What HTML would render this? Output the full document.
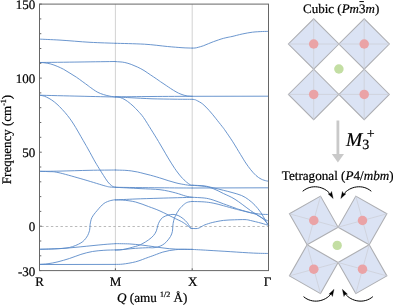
<!DOCTYPE html>
<html><head><meta charset="utf-8"><title>Phonon dispersion</title>
<style>html,body{margin:0;padding:0;background:#fff}body{width:393px;height:305px;overflow:hidden}text{stroke:#000;stroke-width:.22px;paint-order:stroke}</style></head>
<body>
<svg width="393" height="305" viewBox="0 0 393 305" text-rendering="geometricPrecision" style="display:block;font-family:'Liberation Serif','DejaVu Serif',serif">
<rect width="393" height="305" fill="#fff"/>
<line x1="115.4" y1="4.1" x2="115.4" y2="270.6" stroke="#cbcbcb" stroke-width="0.85"/>
<line x1="192.2" y1="4.1" x2="192.2" y2="270.6" stroke="#cbcbcb" stroke-width="0.85"/>
<line x1="41.3" y1="226.5" x2="268.0" y2="226.5" stroke="#b6b6b6" stroke-width="0.95" stroke-dasharray="2.4 2.4"/>
<g fill="none" stroke="#5a8ac8" stroke-width="0.9" stroke-linecap="round" stroke-linejoin="round">
<path d="M39.5 39.1C42.9 39.3 51.6 39.6 60.0 40.1C68.4 40.6 80.8 41.8 90.0 42.3C99.2 42.8 111.2 43.1 115.4 43.3"/>
<path d="M39.5 62.5C46.2 62.4 67.3 62.2 80.0 62.0C92.7 61.8 109.5 61.6 115.4 61.5"/>
<path d="M39.5 62.4C40.4 62.5 43.1 62.6 45.0 62.9C46.9 63.2 48.8 63.4 50.8 64.0C52.8 64.6 55.1 65.4 57.2 66.3C59.3 67.2 61.5 68.1 63.6 69.3C65.7 70.5 67.9 71.9 70.0 73.2C72.1 74.5 74.3 75.8 76.4 77.2C78.5 78.6 80.9 80.4 82.8 81.8C84.7 83.2 86.7 84.6 88.0 85.6C89.3 86.6 89.3 86.6 90.8 87.7C92.3 88.8 95.1 90.8 97.2 92.0C99.3 93.2 101.5 93.9 103.6 94.6C105.7 95.3 108.0 95.8 110.0 96.2C112.0 96.6 114.5 96.8 115.4 96.9"/>
<path d="M39.5 95.2C46.2 95.4 67.3 95.9 80.0 96.2C92.7 96.5 109.5 96.9 115.4 97.0"/>
<path d="M39.5 95.2C40.1 95.3 41.8 95.5 43.0 95.8C44.2 96.1 45.0 96.4 46.5 97.1C48.0 97.8 50.0 98.8 51.7 100.0C53.5 101.2 55.2 102.6 57.0 104.2C58.8 105.8 60.5 107.5 62.2 109.4C64.0 111.3 66.0 113.6 67.5 115.5C69.0 117.4 70.1 118.9 71.5 120.9C72.9 122.9 74.1 124.9 75.7 127.5C77.3 130.1 79.4 133.9 81.0 136.7C82.6 139.4 83.9 141.8 85.2 144.0C86.5 146.2 86.9 147.0 88.6 150.0C90.3 153.0 93.3 158.7 95.2 162.0C97.1 165.3 98.6 167.6 100.0 169.9C101.4 172.2 102.3 173.6 103.6 175.6C104.9 177.6 106.5 180.2 107.8 181.9C109.1 183.6 110.5 184.8 111.5 185.6C112.5 186.4 113.1 186.6 113.8 186.9C114.5 187.2 115.1 187.2 115.4 187.3"/>
<path d="M39.5 171.3C42.9 171.3 51.6 171.3 60.0 171.1C68.4 170.9 80.8 170.5 90.0 170.3C99.2 170.1 111.2 170.1 115.4 170.0"/>
<path d="M39.5 171.3C40.9 171.4 44.9 171.4 48.0 171.6C51.1 171.8 52.5 171.3 58.0 172.5C63.5 173.7 73.2 176.5 80.9 178.7C88.6 180.9 99.1 184.2 103.9 185.6C108.8 187.0 108.1 186.7 110.0 187.0C111.9 187.3 114.5 187.2 115.4 187.2"/>
<path d="M39.5 249.3C42.1 249.2 50.0 249.1 55.0 248.8C60.0 248.5 65.1 248.5 69.4 247.5C73.7 246.5 78.0 244.6 80.9 242.9C83.8 241.2 85.2 239.2 86.7 237.1C88.2 235.0 89.0 232.4 89.6 230.3C90.2 228.2 89.7 226.6 90.1 224.5C90.5 222.4 90.8 219.9 91.9 217.6C93.1 215.3 95.0 213.0 97.0 210.7C99.0 208.3 101.6 205.2 103.9 203.5C106.2 201.8 108.9 201.1 110.8 200.5C112.7 199.9 114.6 199.9 115.4 199.8"/>
<path d="M39.5 249.3C42.9 249.2 53.1 249.0 60.0 248.6C66.9 248.2 73.6 247.5 80.9 246.8C88.2 246.1 98.2 245.0 103.9 244.5C109.7 244.0 113.5 243.8 115.4 243.7"/>
<path d="M39.5 264.3C40.9 264.2 44.9 264.1 48.0 263.7C51.1 263.3 54.4 262.7 58.0 261.8C61.6 260.9 65.6 259.7 69.4 258.5C73.2 257.3 77.1 255.6 80.9 254.4C84.7 253.2 88.6 252.2 92.4 251.5C96.2 250.8 100.1 250.6 103.9 250.3C107.7 250.0 113.5 250.0 115.4 249.9"/>
<path d="M39.5 264.5L115.4 264.4"/>
<path d="M115.4 43.3C120.2 43.4 135.7 43.7 144.4 44.2C153.1 44.7 161.1 45.9 167.4 46.5C173.7 47.1 177.9 47.4 182.0 47.7C186.1 48.0 190.5 48.0 192.2 48.1"/>
<path d="M115.4 61.6C116.2 61.6 118.4 61.8 120.0 61.9C121.6 62.0 122.9 62.1 124.8 62.5C126.7 62.9 129.1 63.6 131.2 64.4C133.3 65.2 135.5 66.1 137.6 67.1C139.7 68.1 141.9 69.2 144.0 70.5C146.1 71.8 148.3 73.4 150.4 74.8C152.5 76.2 154.9 77.8 156.8 79.1C158.7 80.4 159.7 81.2 162.0 82.7C164.3 84.2 168.2 86.9 170.5 88.4C172.8 89.9 174.2 90.8 176.0 91.8C177.8 92.8 179.1 93.5 181.0 94.2C182.9 94.9 185.4 95.7 187.3 96.0C189.2 96.3 191.3 96.2 192.2 96.3"/>
<path d="M115.4 96.8C121.5 96.8 139.2 96.6 152.0 96.5C164.8 96.4 185.5 96.3 192.2 96.3"/>
<path d="M115.4 96.9C117.8 97.0 123.9 97.4 130.0 97.7C136.1 98.0 144.5 98.5 152.0 98.8C159.5 99.0 168.3 99.1 175.0 99.2C181.7 99.3 189.3 99.3 192.2 99.3"/>
<path d="M115.4 96.8C116.0 96.9 117.8 96.9 119.0 97.2C120.2 97.5 121.0 97.7 122.5 98.4C124.0 99.1 126.0 100.2 127.7 101.5C129.4 102.8 131.2 104.3 133.0 105.9C134.8 107.5 136.4 109.3 138.2 111.2C139.9 113.1 141.3 114.4 143.5 117.5C145.7 120.6 148.8 125.8 151.3 129.8C153.8 133.8 156.5 138.1 158.5 141.5C160.5 144.9 161.9 147.3 163.5 150.0C165.1 152.7 166.2 154.8 168.1 157.9C170.0 161.0 172.5 165.2 174.7 168.4C176.9 171.6 179.2 174.6 181.2 176.9C183.2 179.2 185.0 180.8 186.5 182.1C188.0 183.4 189.3 184.2 190.2 184.7C191.1 185.2 191.8 185.2 192.2 185.3"/>
<path d="M115.4 170.0C117.0 170.1 122.2 170.2 124.8 170.3C127.4 170.5 129.1 170.6 131.2 170.9C133.3 171.2 135.5 171.6 137.6 172.0C139.7 172.4 141.9 173.1 144.0 173.6C146.1 174.1 148.3 174.6 150.4 175.2C152.5 175.8 154.9 176.4 156.8 177.0C158.7 177.6 160.1 178.0 162.0 178.6C163.9 179.2 165.9 179.9 168.1 180.6C170.3 181.3 172.8 182.0 175.0 182.6C177.2 183.2 178.8 183.6 181.2 184.0C183.5 184.4 187.3 185.1 189.1 185.3C190.9 185.6 191.6 185.5 192.2 185.5"/>
<path d="M115.4 187.3C122.8 187.4 147.2 187.7 160.0 187.8C172.8 187.9 186.8 188.0 192.2 188.0"/>
<path d="M115.4 187.3C119.5 187.5 132.6 188.2 140.0 188.6C147.4 189.0 154.1 189.0 160.0 189.7C165.9 190.4 171.3 191.8 175.6 192.9C179.9 194.0 183.0 195.4 185.8 196.1C188.6 196.8 191.1 197.1 192.2 197.3"/>
<path d="M115.4 199.9C118.7 199.8 127.6 199.3 135.0 199.0C142.4 198.7 150.5 198.5 160.0 198.2C169.5 197.9 186.8 197.5 192.2 197.3"/>
<path d="M115.4 199.9C116.6 199.9 119.4 199.8 122.8 200.1C126.2 200.4 131.3 200.9 135.6 202.0C139.9 203.1 144.3 205.0 148.4 206.5C152.5 208.0 155.5 209.0 160.0 211.0C164.5 213.0 171.7 216.8 175.6 218.7C179.5 220.6 181.1 221.2 183.2 222.5C185.3 223.8 187.2 225.4 188.4 226.3C189.6 227.2 189.7 227.7 190.3 228.0C190.9 228.3 191.8 228.3 192.2 228.4"/>
<path d="M115.4 243.6C117.7 243.7 124.8 243.7 129.2 243.9C133.6 244.2 137.7 244.6 142.0 245.1C146.3 245.6 150.3 246.2 154.8 246.8C159.3 247.4 164.7 248.3 169.2 248.7C173.7 249.1 178.2 249.2 182.0 249.3C185.8 249.4 190.5 249.4 192.2 249.4"/>
<path d="M115.4 250.0C116.6 249.9 119.4 250.2 122.8 249.6C126.2 249.0 132.4 247.3 135.6 246.4C138.8 245.5 139.9 245.0 142.0 243.9C144.1 242.8 146.5 241.4 148.4 240.0C150.3 238.6 152.2 237.1 153.5 235.6C154.8 234.1 155.7 232.5 156.4 230.8C157.1 229.2 157.2 227.3 157.7 225.7C158.2 224.1 158.8 222.6 159.6 221.2C160.4 219.8 161.4 218.4 162.8 217.4C164.2 216.4 166.2 215.7 167.9 215.2C169.6 214.7 171.3 214.3 173.0 214.4C174.7 214.5 176.4 214.8 178.1 215.5C179.8 216.2 181.7 217.5 183.2 218.7C184.7 219.9 186.0 221.2 187.1 222.5C188.2 223.8 189.0 225.4 189.6 226.3C190.2 227.2 190.3 227.8 190.7 228.2C191.1 228.6 191.9 228.4 192.2 228.5"/>
<path d="M115.4 250.0C117.0 249.9 121.6 249.6 125.0 249.3C128.4 249.0 131.7 248.6 135.6 248.3C139.5 248.0 145.6 247.8 148.4 247.7C151.2 247.6 151.1 247.9 152.6 247.8C154.1 247.7 156.0 247.5 157.7 247.0C159.4 246.5 161.3 245.7 162.8 244.8C164.3 243.9 165.3 243.0 166.6 241.6C167.9 240.2 169.5 238.2 170.5 236.5C171.5 234.8 172.0 233.1 172.4 231.4C172.8 229.7 172.6 228.1 172.8 226.3C173.0 224.5 173.2 222.4 173.7 220.6C174.2 218.8 174.6 217.4 175.6 215.5C176.6 213.6 177.9 211.0 179.4 209.1C180.9 207.2 183.0 205.2 184.5 204.0C186.0 202.8 187.1 202.4 188.4 202.0C189.7 201.6 191.5 201.6 192.2 201.5"/>
<path d="M115.4 264.4C116.6 264.3 119.4 264.5 122.8 264.1C126.2 263.7 131.3 262.9 135.6 261.8C139.9 260.7 144.9 258.5 148.4 257.3C151.9 256.1 154.0 255.3 156.4 254.4C158.8 253.5 160.7 252.7 162.8 252.1C164.9 251.5 167.1 251.0 169.2 250.6C171.3 250.2 173.5 249.9 175.6 249.7C177.7 249.5 179.2 249.4 182.0 249.3C184.8 249.2 190.5 249.4 192.2 249.4"/>
<path d="M192.2 48.1C192.6 48.1 194.0 48.1 195.0 48.0C196.0 47.9 196.8 47.7 198.2 47.3C199.6 46.9 201.6 46.4 203.3 45.8C205.0 45.2 206.7 44.4 208.4 43.7C210.1 43.0 211.7 42.3 213.4 41.7C215.1 41.1 216.8 40.5 218.5 39.9C220.2 39.3 222.0 38.7 223.6 38.3C225.2 37.9 226.6 37.6 228.0 37.3C229.4 37.0 229.6 37.0 232.0 36.5C234.4 36.0 238.8 34.7 242.2 34.0C245.6 33.3 249.0 32.6 252.4 32.2C255.8 31.8 259.8 31.6 262.5 31.5C265.2 31.4 267.5 31.4 268.5 31.4"/>
<path d="M192.2 96.3L268.5 96.2"/>
<path d="M192.2 99.3C192.5 99.3 193.8 99.4 194.5 99.6C195.2 99.8 195.0 99.5 196.4 100.3C197.8 101.0 200.7 102.4 202.8 104.1C204.9 105.8 207.1 108.2 209.2 110.5C211.3 112.8 213.5 115.6 215.6 118.2C217.7 120.8 220.3 124.2 222.0 126.3C223.7 128.4 223.7 128.4 225.5 131.0C227.3 133.6 230.3 137.9 232.8 141.8C235.3 145.7 238.4 151.1 240.6 154.6C242.8 158.1 244.1 160.5 245.8 163.0C247.5 165.5 249.0 167.6 250.7 169.7C252.4 171.8 254.2 173.9 256.0 175.5C257.8 177.1 259.4 178.2 261.2 179.1C262.9 180.0 265.3 180.6 266.5 180.9C267.7 181.2 268.2 181.1 268.5 181.2"/>
<path d="M192.2 188.0L268.5 187.8"/>
<path d="M192.2 185.2C194.2 185.3 200.7 185.5 204.2 185.9C207.7 186.3 209.9 187.1 213.1 187.8C216.3 188.5 220.2 189.5 223.4 190.3C226.6 191.1 229.0 191.6 232.0 192.5C235.0 193.4 238.8 194.3 241.6 195.5C244.3 196.7 246.3 198.0 248.5 199.6C250.7 201.2 253.0 203.2 255.0 205.3C257.0 207.4 258.9 209.8 260.6 212.2C262.3 214.6 263.9 217.8 265.2 220.0C266.5 222.2 267.9 224.4 268.5 225.3"/>
<path d="M192.2 185.3C194.2 185.5 200.7 185.8 204.2 186.3C207.7 186.9 209.9 187.4 213.1 188.6C216.3 189.8 219.8 191.7 223.4 193.5C227.1 195.3 230.5 196.5 235.0 199.3C239.5 202.1 246.2 207.5 250.5 210.5C254.8 213.5 258.0 215.5 261.0 217.3C264.0 219.1 267.2 220.5 268.5 221.2"/>
<path d="M192.2 197.3C194.2 197.4 200.7 197.6 204.2 198.0C207.7 198.4 209.9 199.0 213.1 200.0C216.3 201.0 219.8 202.5 223.4 203.8C227.1 205.1 232.2 207.0 235.0 208.0C237.8 209.0 237.4 208.9 240.0 209.7C242.6 210.5 247.0 211.8 250.5 212.6C254.0 213.3 258.0 213.9 261.0 214.2C264.0 214.5 267.2 214.4 268.5 214.5"/>
<path d="M192.2 201.5C194.2 201.6 200.7 201.6 204.2 201.9C207.7 202.2 209.9 202.5 213.1 203.1C216.3 203.7 219.8 204.7 223.4 205.7C227.1 206.7 232.2 208.2 235.0 208.9C237.8 209.7 237.4 209.5 240.0 210.2C242.6 210.8 247.7 212.1 250.5 212.8C253.3 213.6 254.7 213.7 256.8 214.7C258.9 215.7 261.2 217.2 263.1 218.9C265.1 220.6 267.6 224.0 268.5 225.0"/>
<path d="M192.2 228.4C192.8 228.4 194.9 228.7 196.0 228.6C197.1 228.5 197.9 228.5 198.9 228.1C199.9 227.7 201.0 226.9 202.0 226.3C203.0 225.8 203.2 225.5 205.0 224.8C206.8 224.2 209.7 223.1 212.8 222.4C215.9 221.7 220.0 220.8 223.6 220.4C227.2 220.0 230.8 219.9 234.4 219.8C238.0 219.7 242.3 219.5 245.0 219.6C247.7 219.7 247.8 219.9 250.5 220.5C253.2 221.1 258.0 222.3 261.0 223.1C264.0 223.9 267.2 225.0 268.5 225.4"/>
<path d="M192.2 249.4C194.8 249.6 201.5 249.9 207.9 250.3C214.3 250.7 223.2 251.2 230.8 251.7C238.4 252.2 247.4 252.8 253.7 253.1C260.0 253.4 266.0 253.4 268.5 253.5"/>
</g>
<path d="M39.5 270.6h1.8M39.5 255.8h1.8M39.5 241.0h1.8M39.5 226.2h2.3M39.5 211.4h1.8M39.5 196.6h1.8M39.5 181.8h1.8M39.5 167.0h1.8M39.5 152.2h2.3M39.5 137.3h1.8M39.5 122.5h1.8M39.5 107.7h1.8M39.5 92.9h1.8M39.5 78.1h2.3M39.5 63.3h1.8M39.5 48.5h1.8M39.5 33.7h1.8M39.5 18.9h1.8M39.5 4.1h2.3M115.4 270.6v-2.3M192.2 270.6v-2.3" stroke="#444" stroke-width="0.8" fill="none"/>
<rect x="39.5" y="4.1" width="229.0" height="266.5" fill="none" stroke="#666" stroke-width="1"/>
<g font-size="13" fill="#000" text-anchor="end">
<text x="35.3" y="8.5">150</text>
<text x="35.3" y="82.5">100</text>
<text x="35.3" y="156.6">50</text>
<text x="35.3" y="230.6">0</text>
<text x="35.3" y="275.5">-30</text>
</g>
<g font-size="13" fill="#000" text-anchor="middle">
<text x="39.5" y="286.4">R</text>
<text x="115.6" y="286.4">M</text>
<text x="192.6" y="286.4">X</text>
<text x="267.4" y="286.4">Γ</text>
</g>
<text font-size="13" fill="#000" text-anchor="middle" transform="translate(11,139.5) rotate(-90)">Frequency (cm<tspan font-size="8" dy="-5">-1</tspan><tspan dy="5">)</tspan></text>
<text font-size="13.15" fill="#000" x="117.0" y="302.3"><tspan font-style="italic">Q</tspan> (amu <tspan font-size="8" dy="-5">1/2</tspan><tspan dy="5"> Å)</tspan></text>
<text font-size="13" fill="#000" x="303" y="13">Cubic (<tspan font-style="italic">Pm</tspan><tspan id="three">3</tspan><tspan font-style="italic">m</tspan>)</text>
<line x1="359.4" y1="1.6" x2="363.9" y2="1.6" stroke="#000" stroke-width="1"/>
<polygon points="338.9,44.0 313.7,69.2 288.4,44.0 313.7,18.8" fill="#dbe3f4" stroke="#adaeb2" stroke-width="1.05" stroke-linejoin="miter"/><path d="M338.9 44.0L288.4 44.0M313.7 69.2L313.7 18.8" stroke="#cdcfd8" stroke-width="0.8" fill="none"/><circle cx="313.7" cy="44.0" r="4.75" fill="#eaa3a6"/>
<polygon points="389.4,44.0 364.2,69.2 338.9,44.0 364.2,18.8" fill="#dbe3f4" stroke="#adaeb2" stroke-width="1.05" stroke-linejoin="miter"/><path d="M389.4 44.0L338.9 44.0M364.2 69.2L364.2 18.8" stroke="#cdcfd8" stroke-width="0.8" fill="none"/><circle cx="364.2" cy="44.0" r="4.75" fill="#eaa3a6"/>
<polygon points="338.9,94.4 313.7,119.7 288.4,94.4 313.7,69.2" fill="#dbe3f4" stroke="#adaeb2" stroke-width="1.05" stroke-linejoin="miter"/><path d="M338.9 94.4L288.4 94.4M313.7 119.7L313.7 69.2" stroke="#cdcfd8" stroke-width="0.8" fill="none"/><circle cx="313.7" cy="94.4" r="4.75" fill="#eaa3a6"/>
<polygon points="389.4,94.4 364.2,119.7 338.9,94.4 364.2,69.2" fill="#dbe3f4" stroke="#adaeb2" stroke-width="1.05" stroke-linejoin="miter"/><path d="M389.4 94.4L338.9 94.4M364.2 119.7L364.2 69.2" stroke="#cdcfd8" stroke-width="0.8" fill="none"/><circle cx="364.2" cy="94.4" r="4.75" fill="#eaa3a6"/>
<circle cx="338.9" cy="69.0" r="4.75" fill="#c3dea3"/>
<path d="M336.5 120.5h2.8v33.5h4.7l-6.1 8.6l-6.1-8.6h4.7z" fill="#c9c9c9"/>
<text font-size="19.5" fill="#000" x="346" y="145.5" font-style="italic">M<tspan font-style="normal" font-size="14" dy="3.5">3</tspan><tspan font-style="normal" font-size="14" dy="-10.6" dx="-2.6">+</tspan></text>
<text font-size="13.15" fill="#000" x="281.8" y="180.1">Tetragonal (<tspan font-style="italic">P</tspan>4/<tspan font-style="italic">mbm</tspan>)</text>
<polygon points="338.1,227.2 307.1,244.8 289.4,213.8 320.5,196.1" fill="#dbe3f4" stroke="#adaeb2" stroke-width="1.05" stroke-linejoin="miter"/><path d="M338.1 227.2L289.4 213.8M307.1 244.8L320.5 196.1" stroke="#cdcfd8" stroke-width="0.8" fill="none"/><circle cx="313.8" cy="220.5" r="4.75" fill="#eaa3a6"/>
<polygon points="386.9,213.8 369.2,244.8 338.1,227.2 355.8,196.1" fill="#dbe3f4" stroke="#adaeb2" stroke-width="1.05" stroke-linejoin="miter"/><path d="M386.9 213.8L338.1 227.2M369.2 244.8L355.8 196.1" stroke="#cdcfd8" stroke-width="0.8" fill="none"/><circle cx="362.5" cy="220.5" r="4.75" fill="#eaa3a6"/>
<polygon points="338.1,262.5 320.5,293.6 289.4,275.9 307.1,244.8" fill="#dbe3f4" stroke="#adaeb2" stroke-width="1.05" stroke-linejoin="miter"/><path d="M338.1 262.5L289.4 275.9M320.5 293.6L307.1 244.8" stroke="#cdcfd8" stroke-width="0.8" fill="none"/><circle cx="313.8" cy="269.2" r="4.75" fill="#eaa3a6"/>
<polygon points="386.9,275.9 355.8,293.6 338.1,262.5 369.2,244.8" fill="#dbe3f4" stroke="#adaeb2" stroke-width="1.05" stroke-linejoin="miter"/><path d="M386.9 275.9L338.1 262.5M355.8 293.6L369.2 244.8" stroke="#cdcfd8" stroke-width="0.8" fill="none"/><circle cx="362.5" cy="269.2" r="4.75" fill="#eaa3a6"/>
<circle cx="337.2" cy="245.4" r="4.65" fill="#c3dea3"/>
<g><path d="M303 191C311.4 183.85 324.1 186.1 330.3 194" fill="none" stroke="#000" stroke-width="1" stroke-linecap="round"/><path d="M333.2 198.6L331.6 191.4L330.3 193.9L328 193.7Z" fill="#000" stroke="#000" stroke-width="0.3" stroke-linejoin="miter"/></g>
<g transform="matrix(-1 0 0 1 674 0)"><path d="M303 191C311.4 183.85 324.1 186.1 330.3 194" fill="none" stroke="#000" stroke-width="1" stroke-linecap="round"/><path d="M333.2 198.6L331.6 191.4L330.3 193.9L328 193.7Z" fill="#000" stroke="#000" stroke-width="0.3" stroke-linejoin="miter"/></g>
<g transform="matrix(1 0 0 -1 0.85 487.9)"><path d="M303 191C311.4 183.85 324.1 186.1 330.3 194" fill="none" stroke="#000" stroke-width="1" stroke-linecap="round"/><path d="M333.2 198.6L331.6 191.4L330.3 193.9L328 193.7Z" fill="#000" stroke="#000" stroke-width="0.3" stroke-linejoin="miter"/></g>
<g transform="matrix(-1 0 0 -1 675.55 487.9)"><path d="M303 191C311.4 183.85 324.1 186.1 330.3 194" fill="none" stroke="#000" stroke-width="1" stroke-linecap="round"/><path d="M333.2 198.6L331.6 191.4L330.3 193.9L328 193.7Z" fill="#000" stroke="#000" stroke-width="0.3" stroke-linejoin="miter"/></g>
</svg>
</body></html>
